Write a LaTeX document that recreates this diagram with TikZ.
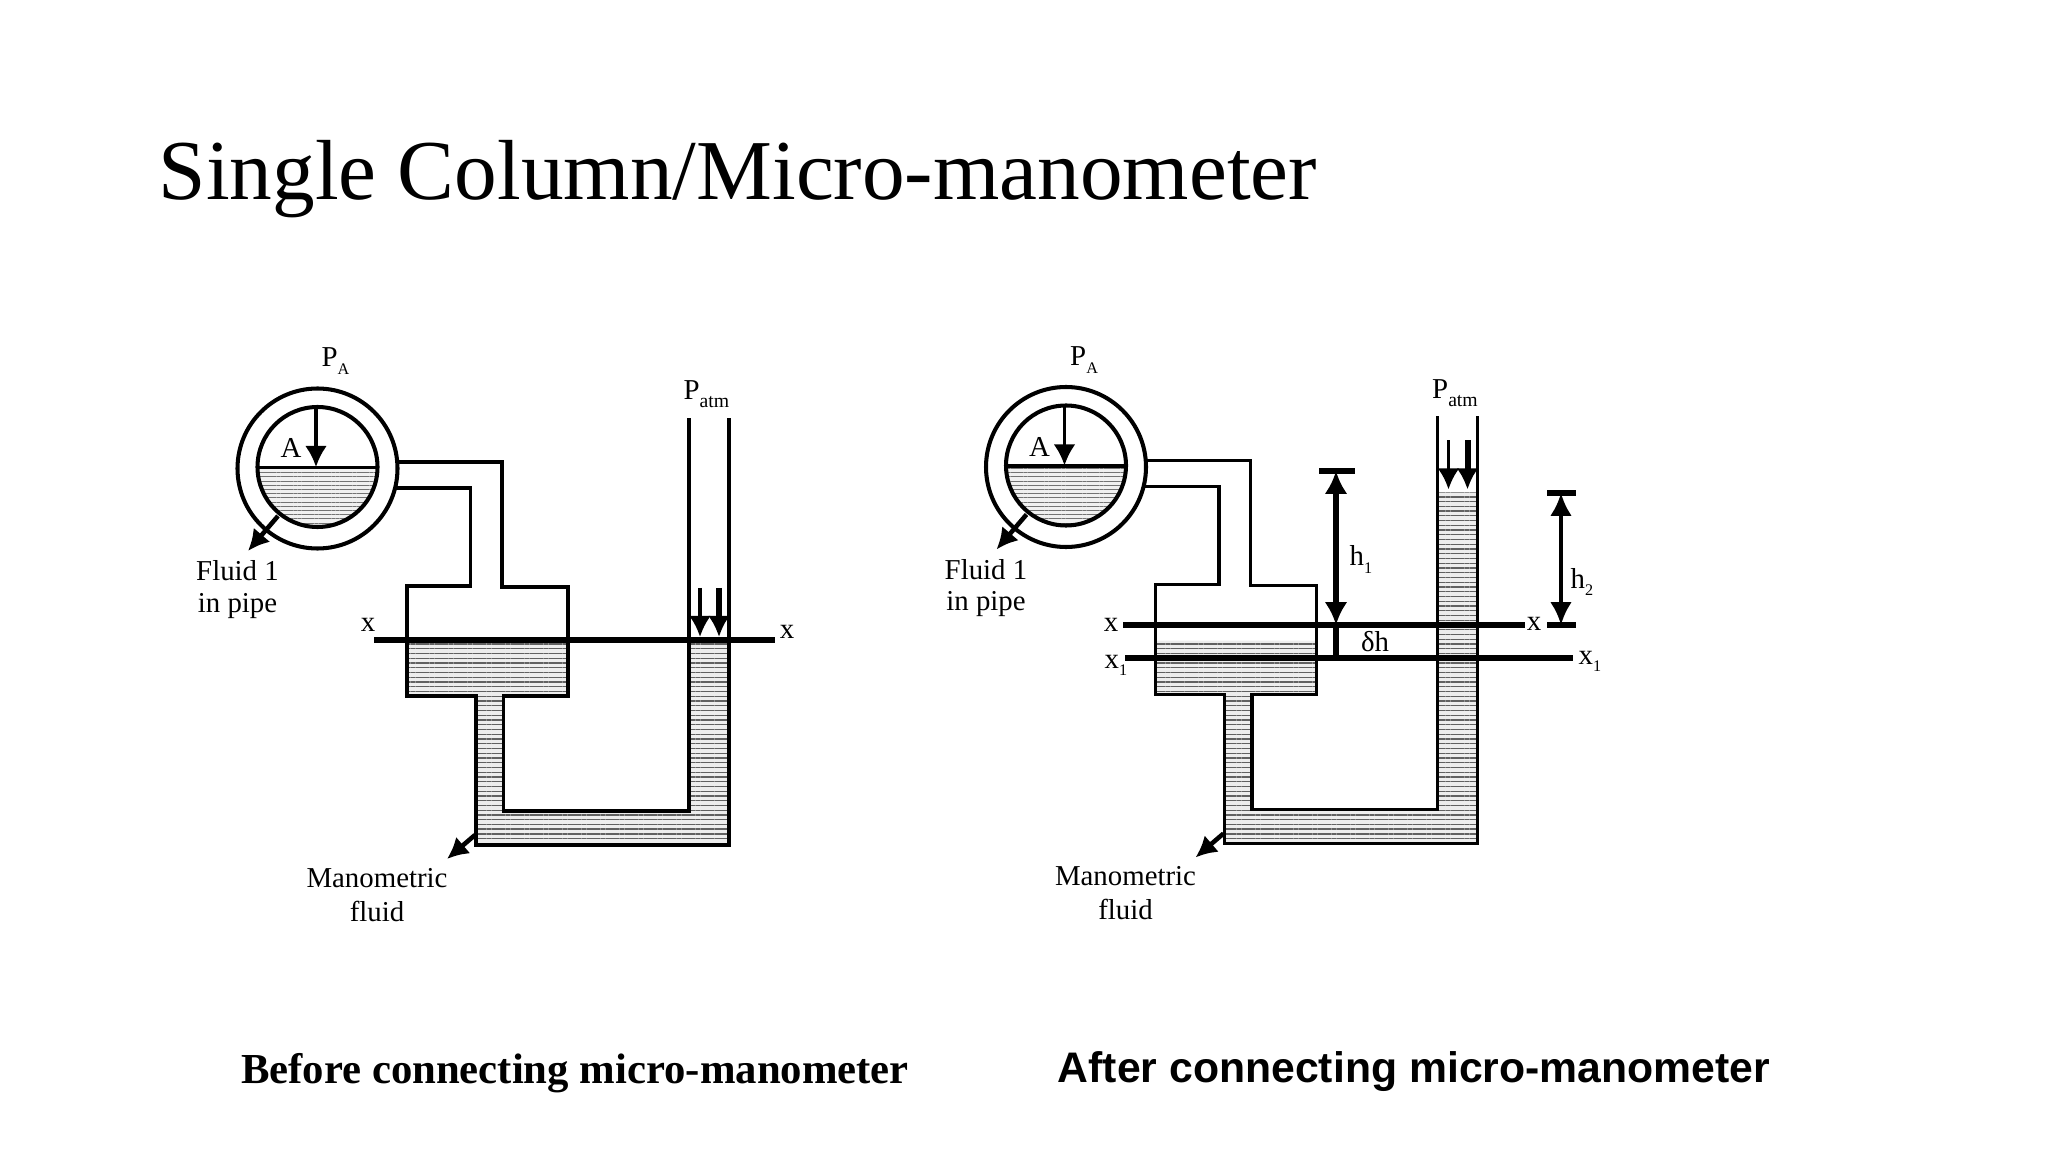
\documentclass[tikz,border=0pt]{standalone}
\usepackage{fontspec}
\setmainfont{Liberation Serif}
\newfontfamily\capsans{Liberation Sans}
\usetikzlibrary{arrows.meta,patterns.meta}
\newcommand{\lowtxt}[2][4.6]{\raisebox{-2.2pt}{\fontsize{#1}{5}\selectfont #2}}
\tikzset{
  wall/.style={line width=.95pt, line join=miter},
  fluid/.style={preaction={fill=black!7}, pattern={Lines[angle=0,distance=1.35pt,line width=.38pt]}, pattern color=black!62},
  gaugefluid/.style={preaction={fill=black!6}, pattern={Lines[angle=0,distance=1.2pt,line width=.28pt]}, pattern color=black!55},
  tag/.style={font=\fontsize{8.2}{10}\selectfont, inner sep=0pt},
  mark line/.style={line width=1.45pt},
  tip/.style={-{Latex[length=6pt,width=6.2pt]}},
}

\begin{document}
\begin{tikzpicture}[x=.01cm,y=-.01cm]
\useasboundingbox (0,0) rectangle (2048,1152);

\node[anchor=base west, inner sep=0pt, font=\fontsize{24.25}{28}\selectfont] (title) at (158,200) {Single Column/Micro-manometer};

% same apparatus twice, only the liquid level changes
\foreach \n/\dx/\dy/\rtop in {1/0/0/640, 2/748.5/-1.5/494} {
\begin{scope}[shift={(\dx,\dy)}]
  \fill[fluid] (407,642) -- (407,696) -- (476,696) -- (476,845) -- (729,845) -- (729,\rtop) -- (689,\rtop) -- (689,811) -- (503.5,811) -- (503.5,696) -- (568,696) -- (568,642) -- cycle;
  \fill[gaugefluid] (258,468) arc[start angle=180, end angle=0, radius=60] -- cycle;

  \draw[line width=1.15pt] (317.5,468.5) circle[radius=80];
  \draw[line width=1.15pt] (317.5,467) circle[radius=60];
  \draw[line width=1.05pt] (257.5,467.5) -- (377.5,467.5);

  \draw[wall] (396,462) -- (502,462) -- (502,587) -- (568,587) -- (568,696) -- (503.5,696) -- (503.5,811) -- (689,811) -- (689,418);
  \draw[wall] (396,488) -- (470.5,488) -- (470.5,586) -- (407,586) -- (407,696) -- (476,696) -- (476,845) -- (729,845) -- (729,418);

  \coordinate (gaugetop\n) at (316,407);
  \coordinate (gaugelevel\n) at (316,467);
  \draw[tip, line width=.9pt] (gaugetop\n) -- (gaugelevel\n);

  \coordinate (pipefrom\n) at (278,516);
  \coordinate (pipeto\n) at (248,551);
  \draw[tip, line width=1.3pt] (pipefrom\n) -- (pipeto\n);
  \coordinate (manofrom\n) at (475,835);
  \coordinate (manoto\n) at (447,859);
  \draw[tip, line width=1.3pt] (manofrom\n) -- (manoto\n);

  \coordinate (atmfromA\n) at (700,\rtop-52);
  \coordinate (atmtoA\n) at (700,\rtop-3);
  \coordinate (atmfromB\n) at (719,\rtop-52);
  \coordinate (atmtoB\n) at (719,\rtop-3);
  \draw[tip, line width=1.05pt] (atmfromA\n) -- (atmtoA\n);
  \draw[tip, line width=1.7pt] (atmfromB\n) -- (atmtoB\n);

  \node[tag] (labelA\n) at (291,448) {A};
  \node[tag, anchor=base west] (labelPA\n) at (321,367) {P\lowtxt{A}};
  \node[tag, anchor=base west] (labelPatm\n) at (683,400) {P\lowtxt[5.6]{atm}};
  \node[tag] (labelpipe\n) at (237.5,571) {Fluid 1};
  \node[tag] (labelpipeb\n) at (237.5,606) {in pipe};
  \node[tag] (labelmano\n) at (377,878) {Manometric};
  \node[tag] (labelmanob\n) at (377,911) {fluid};
\end{scope}
}

% left level line
\coordinate (xleft) at (374,640);
\coordinate (xright) at (775,640);
\draw[line width=1.9pt] (xleft) -- (xright);
\node[tag] (labelx) at (368,625) {x};
\node[tag] (labelxb) at (787,632) {x};

% right level lines
\coordinate (xoneL) at (1123,625);
\coordinate (xoneR) at (1525,625);
\coordinate (xtwoL) at (1125,658);
\coordinate (xtwoR) at (1573,658);
\draw[mark line] (xoneL) -- (xoneR);
\draw[mark line] (xtwoL) -- (xtwoR);

\coordinate (hone) at (1336,471);
\coordinate (honeb) at (1336,625);
\coordinate (honec) at (1336,658);
\draw[line width=1.7pt] (1319,471) -- (1355,471);
\draw[line width=1.5pt, {Latex[length=6.5pt,width=6.5pt]}-{Latex[length=6.5pt,width=6.5pt]}] (hone) -- (honeb);
\draw[line width=1.5pt] (honeb) -- (honec);

\coordinate (htwo) at (1561,493);
\coordinate (htwob) at (1561,625);
\draw[mark line] (1547,493) -- (1576,493);
\draw[mark line] (1547,625) -- (1576,625);
\draw[line width=1.2pt, {Latex[length=6.5pt,width=6.2pt]}-{Latex[length=6.5pt,width=6.2pt]}] (htwo) -- (htwob);

\node[tag, anchor=base west] (labelhone) at (1349,566) {h\lowtxt{1}};
\node[tag, anchor=base west] (labelhtwo) at (1570,588) {h\lowtxt{2}};
\node[tag] (labeldh) at (1375,642) {δh};
\node[tag] (labelxc) at (1111,625) {x};
\node[tag] (labelxd) at (1534,624) {x};
\node[tag, anchor=base west] (labelxe) at (1104,668) {x\lowtxt{1}};
\node[tag, anchor=base west] (labelxf) at (1578,664) {x\lowtxt{1}};

\node[anchor=base, inner sep=0pt, font=\fontsize{12.15}{14}\selectfont\bfseries] (capbefore) at (575,1083) {Before connecting micro-manometer};
\node[anchor=base, inner sep=0pt, font=\fontsize{12.15}{14}\selectfont\capsans\bfseries] (capafter) at (1414,1082) {After connecting micro-manometer};
\end{tikzpicture}
\end{document}
